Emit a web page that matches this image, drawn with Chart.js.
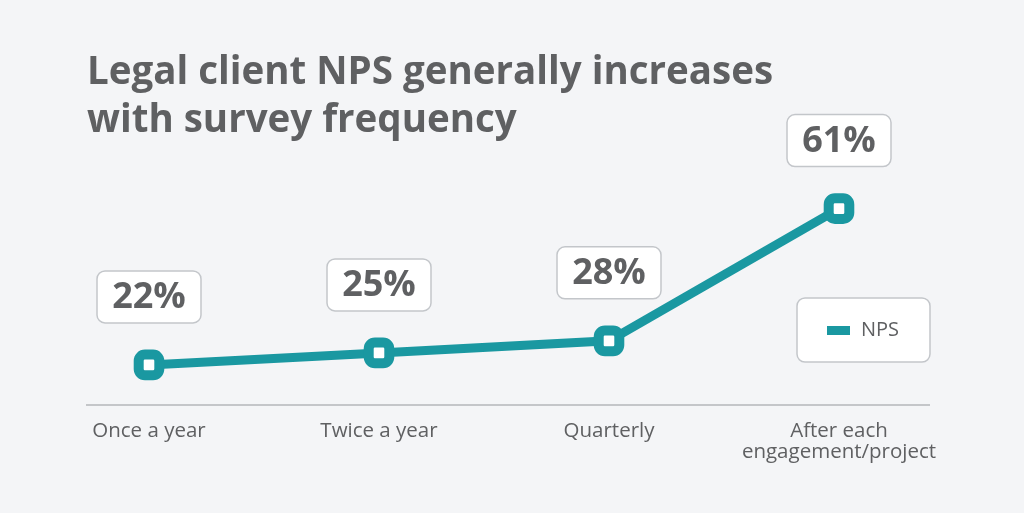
<!DOCTYPE html>
<html>
<head>
<meta charset="utf-8">
<script src="https://cdn.jsdelivr.net/npm/chart.js@4/dist/chart.umd.min.js"></script>
<style>
    html, body { margin: 0; padding: 0; background: #f4f5f7; }
    #wrap { width: 1024px; height: 513px; }
</style>
</head>
<body>
<div id="wrap"><canvas id="nps-chart" width="1024" height="513"></canvas></div>
<script>
// Chart data
const categories = ['Once a year', 'Twice a year', 'Quarterly', ['After each', 'engagement/project']];
const npsValues = [22, 25, 28, 61];
const seriesName = 'NPS';
const titleLines = ['Legal client NPS generally increases', 'with survey frequency'];

const TEAL = '#1a98a1';
const GREY_TEXT = '#5f6062';

function roundRect(ctx, x, y, w, h, r) {
    ctx.beginPath();
    ctx.moveTo(x + r, y);
    ctx.lineTo(x + w - r, y);
    ctx.arcTo(x + w, y, x + w, y + r, r);
    ctx.lineTo(x + w, y + h - r);
    ctx.arcTo(x + w, y + h, x + w - r, y + h, r);
    ctx.lineTo(x + r, y + h);
    ctx.arcTo(x, y + h, x, y + h - r, r);
    ctx.lineTo(x, y + r);
    ctx.arcTo(x, y, x + r, y, r);
    ctx.closePath();
}

// axis line, value boxes and the boxed legend
const decorations = {
    id: 'decorations',
    beforeDatasetsDraw(chart) {
        const ctx = chart.ctx;
        const area = chart.chartArea;
        ctx.save();
        ctx.strokeStyle = '#c4c6c9';
        ctx.lineWidth = 2;
        ctx.beginPath();
        ctx.moveTo(area.left - 63, area.bottom);
        ctx.lineTo(area.right + 91, area.bottom);
        ctx.stroke();
        ctx.restore();
    },
    afterDatasetsDraw(chart) {
        const ctx = chart.ctx;
        const area = chart.chartArea;
        const meta = chart.getDatasetMeta(0);
        ctx.save();
        meta.data.forEach((pt, i) => {
            const w = 104, h = 52;
            const cx = pt.x, cy = pt.y - 68;
            roundRect(ctx, cx - w / 2, cy - h / 2, w, h, 8);
            ctx.fillStyle = '#ffffff';
            ctx.fill();
            ctx.strokeStyle = '#c3c6ca';
            ctx.lineWidth = 1.5;
            ctx.stroke();
            ctx.fillStyle = GREY_TEXT;
            ctx.font = 'bold 36px "Open Sans"';
            ctx.textAlign = 'center';
            ctx.textBaseline = 'middle';
            ctx.fillText(npsValues[i] + '%', cx, cy + 1);
        });

        // legend box
        const lx = area.right + 91 - 133, ly = 298;
        roundRect(ctx, lx, ly, 133, 64, 8);
        ctx.fillStyle = '#ffffff';
        ctx.fill();
        ctx.strokeStyle = '#c3c6ca';
        ctx.lineWidth = 1.5;
        ctx.stroke();
        ctx.fillStyle = TEAL;
        ctx.fillRect(lx + 30, ly + 28, 23, 9);
        ctx.fillStyle = GREY_TEXT;
        ctx.font = '20px "Open Sans"';
        ctx.textAlign = 'left';
        ctx.textBaseline = 'middle';
        ctx.fillText(seriesName, lx + 64, ly + 32);
        ctx.restore();
    }
};

const ctx = document.getElementById('nps-chart').getContext('2d');
const npsChart = new Chart(ctx, {
    type: 'line',
    data: {
        labels: categories,
        datasets: [{
            label: seriesName,
            data: npsValues,
            borderColor: TEAL,
            borderWidth: 9,
            fill: false,
            tension: 0,
            pointStyle: 'rectRounded',
            pointRadius: 12,
            pointBorderWidth: 10,
            pointBorderColor: TEAL,
            pointBackgroundColor: '#ffffff'
        }]
    },
    options: {
        responsive: false,
        animation: false,
        layout: {
            padding: { left: 87, right: 185, top: 49, bottom: 48 }
        },
        plugins: {
            legend: { display: false },
            tooltip: { enabled: false },
            title: {
                display: true,
                text: titleLines,
                align: 'start',
                color: GREY_TEXT,
                font: { family: '"Open Sans"', size: 38.5, weight: 'bold', lineHeight: 1.25 },
                padding: { top: 0, bottom: 0 }
            }
        },
        scales: {
            x: {
                offset: false,
                grid: { display: false, drawTicks: false },
                border: { display: false },
                ticks: {
                    color: GREY_TEXT,
                    font: { family: '"Open Sans"', size: 20.5, lineHeight: 1.0 },
                    padding: 16,
                    autoSkip: false,
                    maxRotation: 0
                },
                afterFit: (scale) => { scale.height = 60; }
            },
            y: {
                min: 12,
                max: 76.8,
                grid: { display: false, drawTicks: false },
                border: { display: false },
                ticks: { display: false },
                afterFit: (scale) => { scale.width = 62; }
            }
        }
    },
    plugins: [decorations]
});
</script>
</body>
</html>
